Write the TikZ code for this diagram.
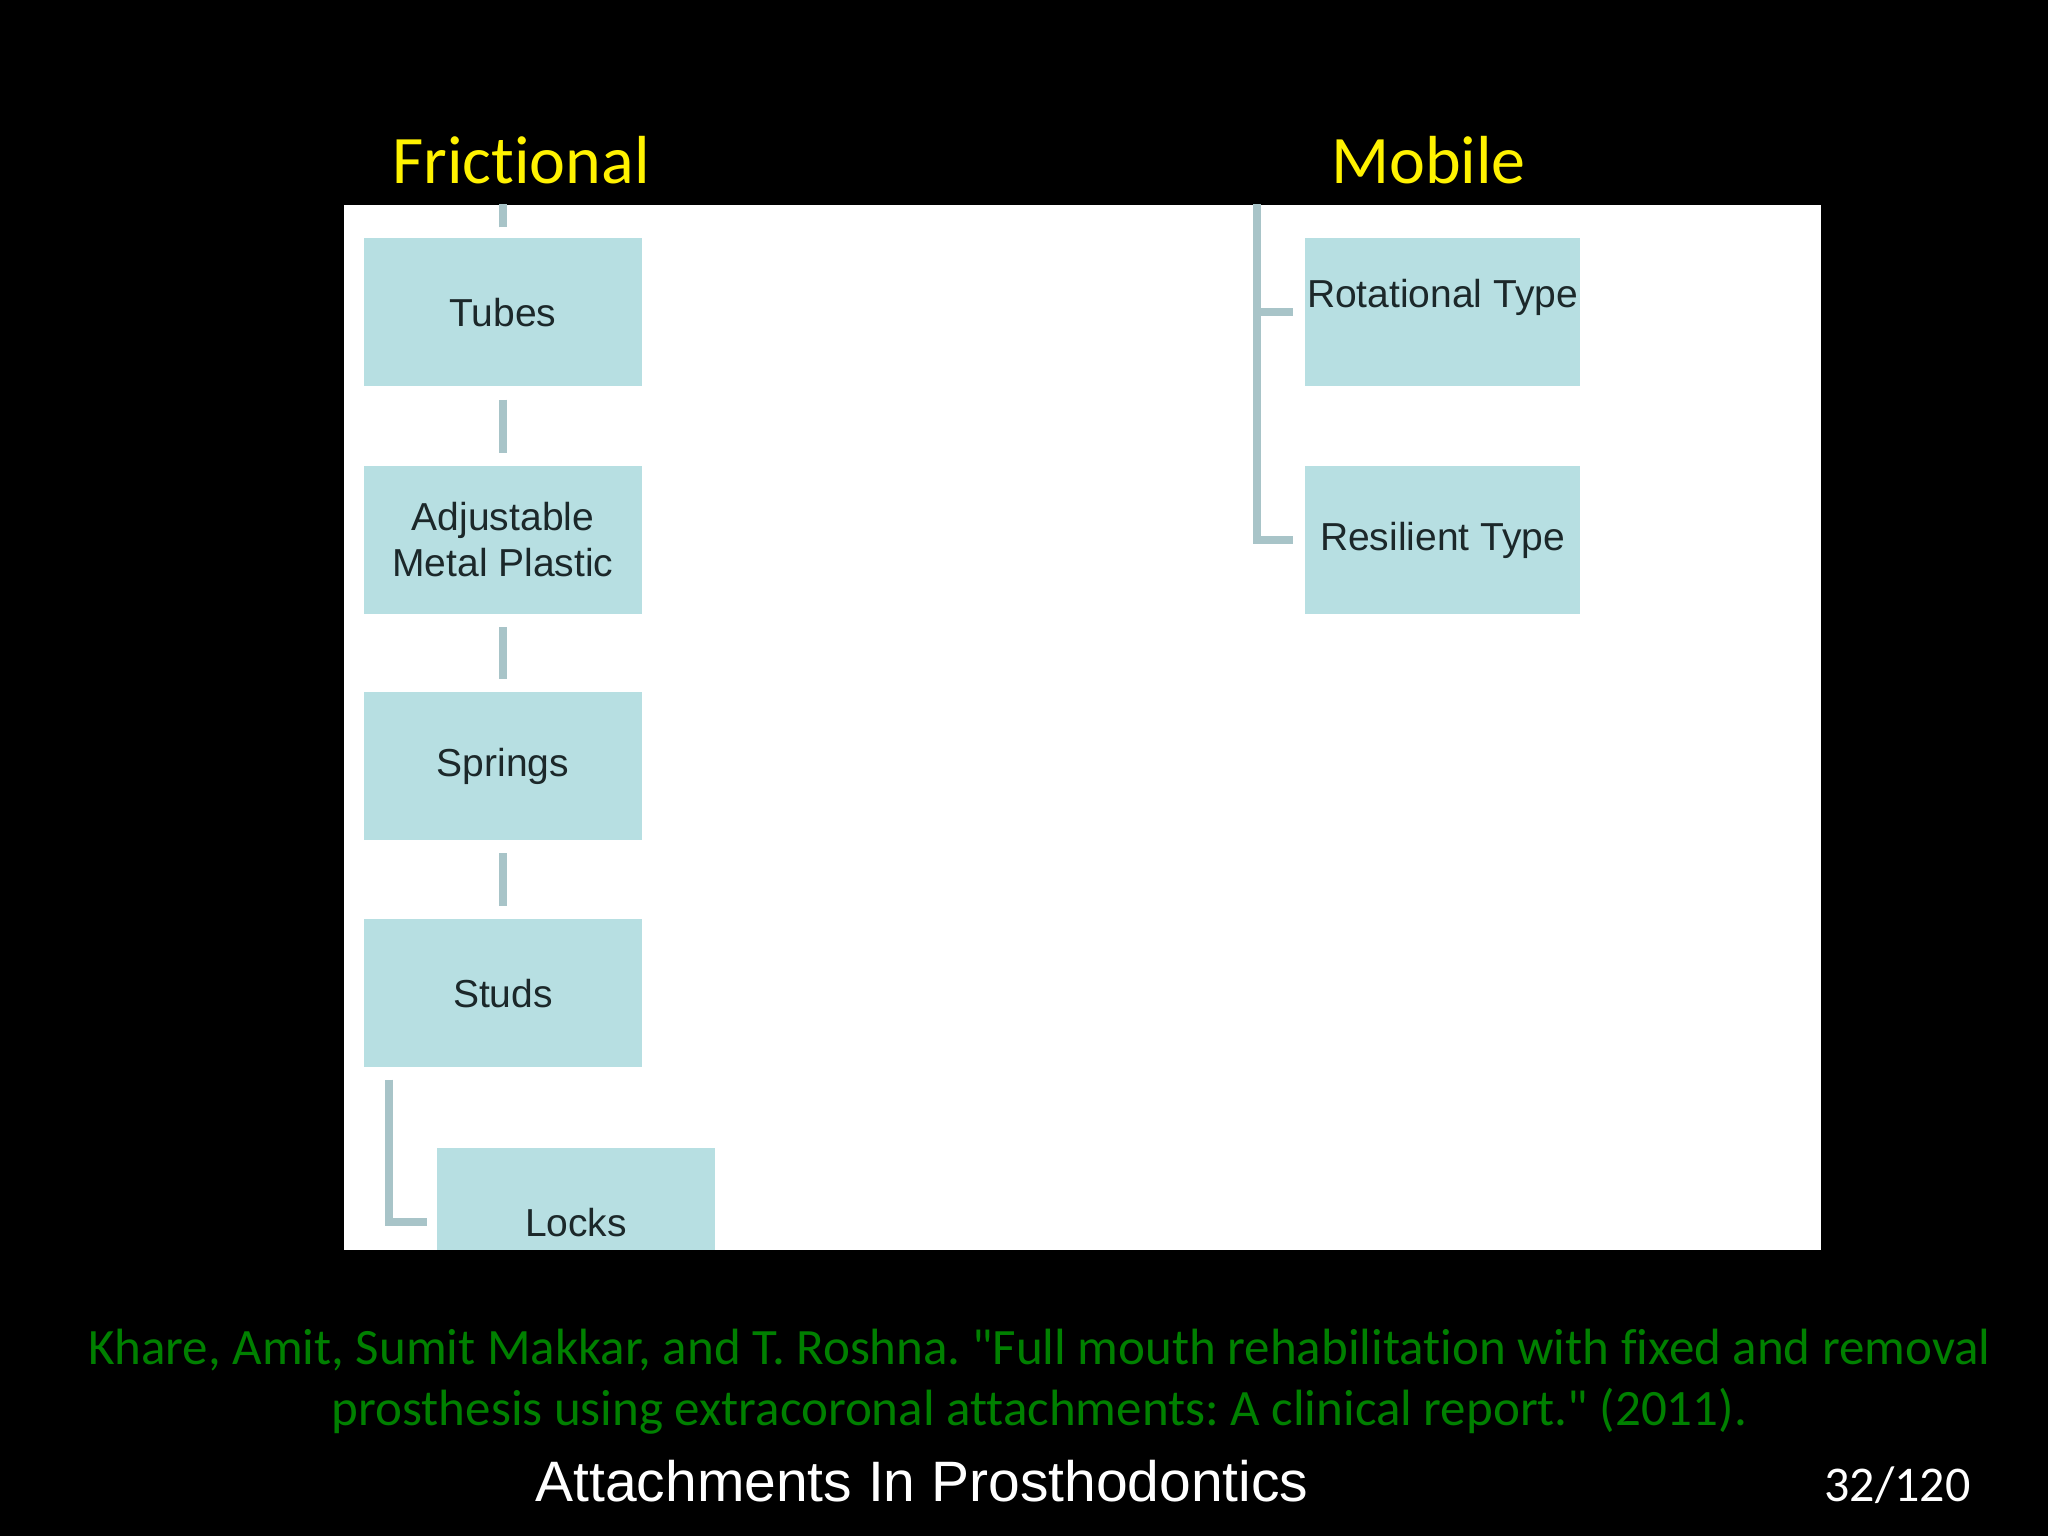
\documentclass[tikz,border=0pt]{standalone}
\usepackage{fontspec}
\setmainfont{Liberation Sans}
\newfontfamily\calibri[Ligatures=NoCommon]{Carlito}
\usetikzlibrary{calc}
\frenchspacing
\definecolor{boxfill}{RGB}{183,223,226}
\definecolor{linkgray}{RGB}{168,196,200}
\definecolor{boxtext}{RGB}{28,40,42}
\definecolor{citegreen}{RGB}{0,128,0}
\tikzset{
         box/.style={fill=boxfill, minimum width=278pt, minimum height=148pt, inner sep=0pt,
                     text=boxtext, align=center, font=\fontsize{39pt}{46pt}\selectfont},
         link/.style={draw=linkgray, line width=8pt},
         heading/.style={text=yellow, anchor=base, inner sep=0pt, font=\calibri\fontsize{68pt}{80pt}\selectfont},
         cite/.style={text=citegreen, anchor=base, inner sep=0pt, font=\calibri\fontsize{51pt}{60pt}\selectfont}
        }

\begin{document}
\begin{tikzpicture}[x=1pt,y=1pt]
    \useasboundingbox (0,0) rectangle (2048,1536);
    \fill[black] (0,0) rectangle (2048,1536); % slide background
    \node[heading] (fric) at (521,1352) {Frictional}; % left heading
    \node[heading] (mob) at (1428.5,1352) {Mobile}; % right heading
    \fill[white] (343.5,286) rectangle (1820.5,1331); % chart panel
    \begin{scope}
        \clip (343.5,286) rectangle (1820.5,1331);
        \node[box] (tubes) at (503,1223.5) {Tubes}; % frictional boxes
        \node[box] (adj) at (503,996) {Adjustable\\Metal Plastic};
        \node[box] (springs) at (503,770) {Springs};
        \node[box] (studs) at (503,542.5) {Studs};
        \node[box] (locks) at (576,313.5) {Locks};
        \node[box, minimum width=275pt, text depth=38pt] (rot) at (1442.5,1223.5) {Rotational Type}; % mobile boxes
        \node[box, minimum width=275pt] (res) at (1442.5,996) {Resilient Type};
        \draw[link] ([yshift=11pt]tubes.north) -- ++(0,40); % Wiring
        \draw[link] ([yshift=-13pt]tubes.south) -- ([yshift=13pt]adj.north); % Wiring
        \draw[link] ([yshift=-13pt]adj.south) -- ([yshift=13pt]springs.north); % Wiring
        \draw[link] ([yshift=-13pt]springs.south) -- ([yshift=13pt]studs.north); % Wiring
        \draw[link] ([xshift=-114pt,yshift=-12pt]studs.south) |- ([xshift=-10pt]locks.west); % Wiring
        \coordinate (mtop) at (1257,1345);
        \draw[link] (mtop) |- ([xshift=-12pt]rot.west); % Wiring
        \draw[link] (mtop) |- ([xshift=-12pt]res.west); % Wiring
    \end{scope}
    \node[cite] (cite1) at (1039.5,171) {Khare, Amit, Sumit Makkar, and T. Roshna. "Full mouth rehabilitation with fixed and removal}; % reference
    \node[cite] (cite2) at (1039.5,110) {prosthesis using extracoronal attachments: A clinical report." (2011).};
    \node[text=white, anchor=base, inner sep=0pt, font=\fontsize{57pt}{66pt}\selectfont] (foot) at (922,34) {Attachments In Prosthodontics}; % footer
    \node[text=white, anchor=base, inner sep=0pt, font=\calibri\fontsize{50pt}{60pt}\selectfont] (page) at (1897.5,34) {32/120}; % slide number
\end{tikzpicture}
\end{document}
